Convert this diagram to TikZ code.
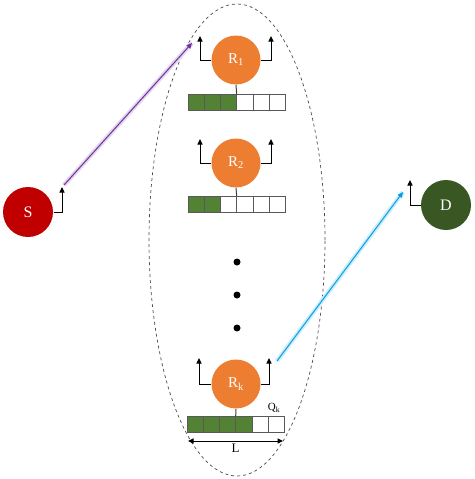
\documentclass[tikz,border=0pt]{standalone}
\usepackage{fontspec}
\setmainfont{Liberation Serif}
\usetikzlibrary{arrows.meta,shapes.geometric}

\definecolor{relayorange}{RGB}{237,125,49}
\definecolor{srcred}{RGB}{192,0,0}
\definecolor{dstgreen}{RGB}{56,87,35}
\definecolor{bufgreen}{RGB}{84,130,53}
\definecolor{linkpurple}{RGB}{112,48,160}
\definecolor{linkblue}{RGB}{0,160,230}

\begin{document}
\begin{tikzpicture}[x=1pt,y=-1pt,>={Triangle[length=5.5pt,width=5pt]},
                    line width=1pt]
  \tikzstyle{every node}=[font=\fontsize{13}{15}\selectfont]
  \tikzstyle{relay}=[circle,fill=relayorange,text=white,minimum size=49pt,inner sep=0pt,
                     font=\fontsize{15}{17}\selectfont]
  \tikzstyle{endnode}=[circle,text=white,minimum size=50pt,inner sep=0pt,
                       font=\fontsize{16}{18}\selectfont]
  \tikzstyle{cell}=[draw=black!65,line width=0.7pt,minimum width=16.2pt,
                    minimum height=16pt,inner sep=0pt,outer sep=0pt]
  \tikzstyle{dot}=[circle,fill=black,inner sep=0pt,minimum size=7pt]

  \useasboundingbox (0,0) rectangle (474,479);

  % relay cluster
  \node[ellipse,draw=black!70,dashed,line width=0.7pt,
        minimum width=176pt,minimum height=472pt] (group) at (237,240) {};

  \node[relay] (R1) at (236,60)  {R\textsubscript{1}};
  \node[relay] (R2) at (236,163) {R\textsubscript{2}};
  \node[relay] (Rk) at (236,384) {R\textsubscript{k}};

  % buffers
  \foreach \i in {1,...,6} \node[cell] (qa\i) at (180+16.2*\i,102.5) {};
  \foreach \i in {1,...,6} \node[cell] (qb\i) at (180+16.2*\i,204) {};
  \foreach \i in {1,...,6} \node[cell] (qk\i) at (179+16.2*\i,424) {};
  \foreach \i in {1,2,3} \node[cell,fill=bufgreen] at (qa\i) {};
  \foreach \i in {1,2} \node[cell,fill=bufgreen] at (qb\i) {};
  \foreach \i in {1,...,4} \node[cell,fill=bufgreen] at (qk\i) {};

  \draw[black!75] (R1.south) -- (qa3.north east);
  \draw[black!75] (R2.south) -- (qb3.north east);
  \draw[black!75] (Rk.south) -- (qk3.north east);

  \node[font=\fontsize{11}{12}\selectfont] (Qk) at (274,408) {Q\textsubscript{k}};
  \coordinate (la) at (188,441);
  \coordinate (lb) at (283,441);
  \draw[<->] (la) -- node[below,inner sep=2pt] (Llab) {L} (lb);

  \node[dot] (dot1) at (237,262) {};
  \node[dot] (dot2) at (237,295) {};
  \node[dot] (dot3) at (237,328) {};

  % source and destination
  \node[endnode,fill=srcred]   (S) at (28,212)  {S};
  \node[endnode,fill=dstgreen] (D) at (446,205) {D};

  % antenna arrows
  \coordinate (r1l) at (200,36);  \coordinate (r1r) at (271,36);
  \coordinate (r2l) at (200,139); \coordinate (r2r) at (271,139);
  \coordinate (rkl) at (199,358); \coordinate (rkr) at (269,358);
  \coordinate (sa)  at (62,187);
  \coordinate (da)  at (410,180);
  \draw[->] (R1.west) -| (r1l);  \draw[->] (R1.east) -| (r1r);
  \draw[->] (R2.west) -| (r2l);  \draw[->] (R2.east) -| (r2r);
  \draw[->] (Rk.west) -| (rkl);  \draw[->] (Rk.east) -| (rkr);
  \draw[->] (S.east) -| (sa);
  \draw[->] (D.west) -| (da);

  % links
  \coordinate (p0) at (64,185);  \coordinate (p1) at (192,43);
  \coordinate (b0) at (277,361); \coordinate (b1) at (403,192);
  \draw[linkpurple!20,line width=4.5pt] (p0) -- (p1);
  \draw[->,linkpurple,line width=1pt] (p0) -- (p1);
  \draw[linkblue!20,line width=4.5pt] (b0) -- (b1);
  \draw[->,linkblue,line width=1pt] (b0) -- (b1);
\end{tikzpicture}
\end{document}
